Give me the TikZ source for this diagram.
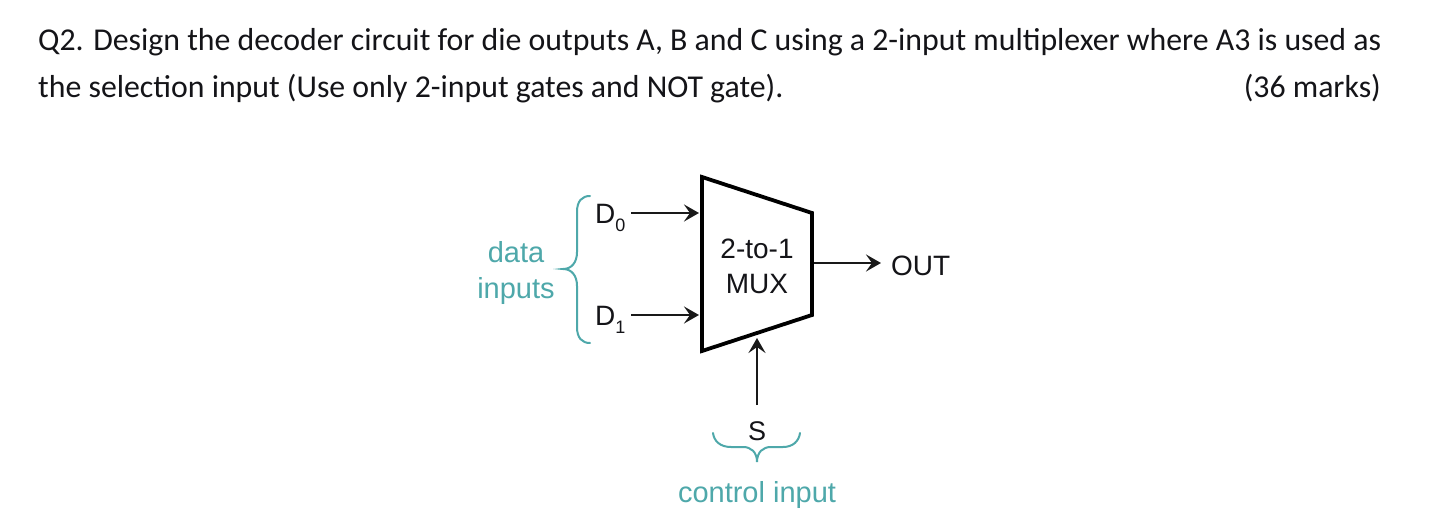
\documentclass[tikz,border=0pt]{standalone}
\usepackage{fontspec}
\setmainfont{Carlito}
\newfontfamily\diagfont{Liberation Sans}
\usetikzlibrary{arrows.meta}
\definecolor{tealtxt}{RGB}{78,168,170}
\definecolor{inktxt}{RGB}{20,20,24}
\tikzset{x=1pt,y=-1pt,
  qtext/.style={inner sep=0pt,text=inktxt,font=\fontsize{31.8}{38}\selectfont},
  dlabel/.style={inner sep=0pt,text=inktxt,font=\diagfont\fontsize{28}{33}\selectfont},
  tlabel/.style={inner sep=0pt,text=tealtxt,font=\diagfont\fontsize{29}{35}\selectfont},
  muxbody/.style={draw=black,line width=3.8pt,line join=miter},
  wire/.style={draw=black!90,line width=2.8pt,-{Stealth[length=15pt,width=17pt,inset=6pt]}},
  bracecurve/.style={draw=tealtxt,line width=2pt,line cap=round},
}
\begin{document}
\begin{tikzpicture}
\useasboundingbox (0,0) rectangle (1436,532);
\fill[white] (0,0) rectangle (1436,532);
\node[qtext,anchor=base west] (q1) at (38,51) {Q2. Design the decoder circuit for die outputs A, B and C using a 2-input multiplexer where A3 is used as};
\node[qtext,anchor=base west] (q2) at (38,98) {the selection input (Use only 2-input gates and NOT gate).};
\node[qtext,anchor=base east] (marks) at (1381,98) {(36 marks)};
% MUX
\coordinate (m1) at (702,177);
\coordinate (m2) at (812,213);
\coordinate (m3) at (812,315);
\coordinate (m4) at (702,351);
\draw[muxbody] (m1) -- (m2) -- (m3) -- (m4) -- cycle;
\node[dlabel,anchor=base] (mux1) at (757,258) {2-to-1};
\node[dlabel,anchor=base] (mux2) at (757,293) {MUX};
% inputs
\node[dlabel,anchor=base west] (d0) at (595,223) {D\raisebox{-9pt}{\fontsize{18}{20}\selectfont 0}};
\node[dlabel,anchor=base west] (d1) at (595,325) {D\raisebox{-8pt}{\fontsize{18}{20}\selectfont 1}};
\coordinate (d0s) at (631,213);
\coordinate (d0e) at (699,213);
\coordinate (d1s) at (631,315);
\coordinate (d1e) at (699,315);
\draw[wire] (d0s) -- (d0e);
\draw[wire] (d1s) -- (d1e);
% output
\coordinate (outs) at (814,263);
\node[dlabel,anchor=base west] (out) at (891,275) {OUT};
\coordinate (oute) at (881,263);
\draw[wire] (outs) -- (oute);
% select
\node[dlabel,anchor=base,font=\diagfont\fontsize{27}{30}\selectfont] (s) at (757,440) {S};
\coordinate (ss) at (757,405);
\coordinate (se) at (757,338);
\draw[wire] (ss) -- (se);
% braces
\coordinate (lb1) at (590,196);
\coordinate (lbt) at (563,269);
\coordinate (lb2) at (590,343);
\draw[bracecurve] (lb1) .. controls (582,196) and (577,201) .. (577,212)
  -- (577,252) .. controls (577,262) and (572,269) .. (lbt)
  .. controls (572,269) and (577,276) .. (577,286)
  -- (577,327) .. controls (577,338) and (582,343) .. (lb2);
\coordinate (bb1) at (713,433);
\coordinate (bbt) at (757,462);
\coordinate (bb2) at (800,433);
\draw[bracecurve] (bb1) .. controls (714,441) and (720,447) .. (731,447)
  -- (743,447) .. controls (751,447) and (757,452) .. (bbt)
  .. controls (757,452) and (763,447) .. (771,447)
  -- (783,447) .. controls (793,447) and (799,441) .. (bb2);
\node[tlabel,anchor=base] (data) at (516,262) {data};
\node[tlabel,anchor=base] (inputs) at (516,298) {inputs};
\node[tlabel,anchor=base] (ctrl) at (757,502) {control input};
\end{tikzpicture}
\end{document}
